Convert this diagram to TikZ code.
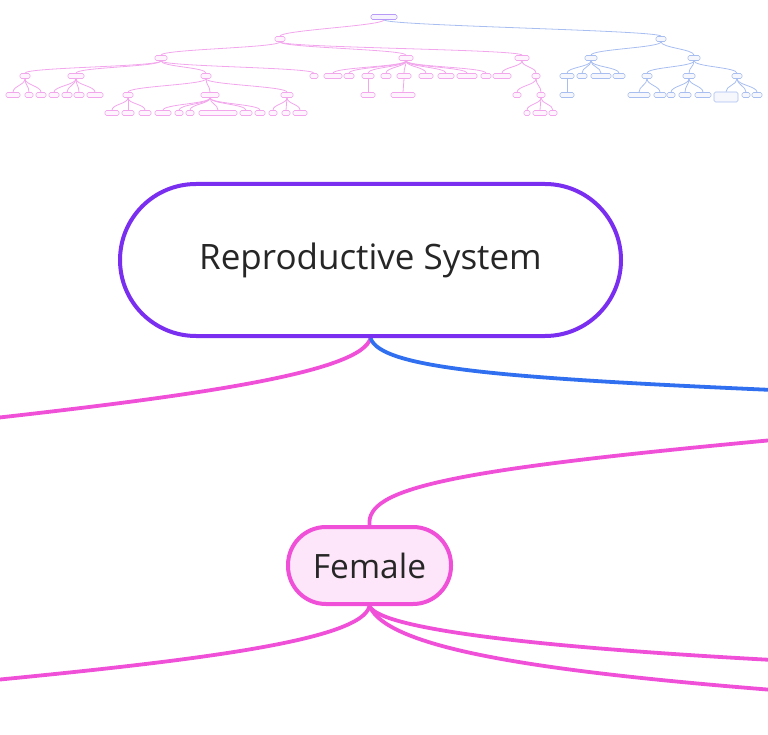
\documentclass[tikz,border=0pt]{standalone}
\usepackage{fontspec}
\setmainfont{Open Sans}
\usetikzlibrary{backgrounds}
\definecolor{mp}{HTML}{F2A6EC}
\definecolor{mb}{HTML}{A8BEF0}
\definecolor{mr}{HTML}{B79AF5}
\definecolor{purp}{HTML}{7A2EF0}
\definecolor{pink}{HTML}{F050D8}
\definecolor{blu}{HTML}{2F6FF0}
\definecolor{pfill}{HTML}{FDE6F9}
\definecolor{txt}{HTML}{262626}
\tikzset{
  mm/.style={draw=#1, fill=#1!12, rounded corners=1.5pt, line width=0.6pt, minimum height=5pt, inner sep=0pt},
  mmline/.style={draw=#1, line width=0.8pt},
  bigroot/.style={draw=purp, line width=4pt, rounded corners=76pt, minimum width=501pt, minimum height=152pt, fill=white, text=txt, font=\fontsize{35}{38}\selectfont},
  fem/.style={draw=pink, line width=4pt, rounded corners=38pt, minimum width=163pt, minimum height=77pt, fill=pfill, text=txt, font=\fontsize{33.5}{36}\selectfont},
  conn/.style={line width=3.8pt, draw=#1}
}
\begin{document}
\begin{tikzpicture}[x=1pt,y=-1pt]
\useasboundingbox (0,0) rectangle (768,735);
% minimap
\node[mm=mr, minimum width=26pt] (r) at (384,17) {};
\foreach \n/\x/\y/\w/\p/\c in {
F/280/39/10/r/mp, M/661/39/10/r/mb,
a/161/58/12/F/mp, b/406/58/14/F/mp, c/522/58/14/F/mp, d/591/58/12/M/mb, e/694/58/12/M/mb,
a1/25/76/10/a/mp, a2/76/76/16/a/mp, a3/206/76/10/a/mp, a4/314/76/8/a/mp,
b1/333/76/18/b/mp, b2/349/76/10/b/mp, b3/368/76/12/b/mp, b4/386/76/10/b/mp, b5/404/76/14/b/mp, b6/426/76/14/b/mp, b7/446/76/16/b/mp, b8/467/76/20/b/mp, b9/486/76/10/b/mp,
c1/502/76/18/c/mp, c2/536/76/8/c/mp,
d1/567/76/14/d/mb, d2/582/76/10/d/mb, d3/601/76/20/d/mb, d4/619/76/12/d/mb,
e1/647/76/10/e/mb, e2/689/76/12/e/mb, e3/737/76/10/e/mb,
a11/13/95/14/a1/mp, a12/29/95/8/a1/mp, a13/41/95/10/a1/mp,
a21/54/95/10/a2/mp, a22/67/95/10/a2/mp, a23/79/95/10/a2/mp, a24/95/95/16/a2/mp,
a31/128/95/10/a3/mp, a32/210/95/18/a3/mp, a33/287/95/12/a3/mp,
b31/368/95/14/b3/mp, b51/403/95/24/b5/mp,
c21/517/95/8/c2/mp, c22/541/95/8/c2/mp,
d11/567/95/14/d1/mb,
e11/639/95/22/e1/mb, e12/660/95/12/e1/mb,
e21/671/95/8/e2/mb, e22/685/95/12/e2/mb, e23/703/95/16/e2/mb,
e32/746/95/8/e3/mb, e33/757/95/10/e3/mb,
a311/112/113/14/a31/mp, a312/128/113/12/a31/mp, a313/145/113/12/a31/mp,
a321/163/113/16/a32/mp, a322/179/113/8/a32/mp, a323/190/113/8/a32/mp, a324/218/113/38/a32/mp, a325/246/113/12/a32/mp, a326/260/113/10/a32/mp,
a331/273/113/8/a33/mp, a332/286/113/8/a33/mp, a333/300/113/14/a33/mp,
c221/527/113/6/c22/mp, c222/540/113/14/c22/mp, c223/553/113/8/c22/mp}{
  \node[mm=\c, minimum width=\w pt] (\n) at (\x,\y) {};
  \begin{pgfonlayer}{background}
  \draw[mmline=\c] (\p.south) .. controls +(0,6) and +(0,-6) .. (\n.north);
  \end{pgfonlayer}
}
\node[mm=mb, minimum width=24pt, minimum height=10pt] (e31) at (726,97) {};
\begin{pgfonlayer}{background}
\draw[mmline=mb] (e3.south) .. controls +(0,6) and +(0,-6) .. (e31.north);
\end{pgfonlayer}
% main view
\node[bigroot] (rs) at (370.5,260) {Reproductive System};
\node[fem] (fe) at (369.5,565.5) {Female};
\coordinate (l1) at (-5,418);
\coordinate (r1) at (773,390);
\coordinate (r2) at (773,440);
\coordinate (l2) at (-5,680);
\coordinate (r3) at (773,660);
\coordinate (r4) at (773,690);
\begin{pgfonlayer}{background}
\draw[conn=pink] (rs.south) .. controls (362,372) and (200,395) .. (l1);
\draw[conn=blu] (rs.south) .. controls (380,368) and (500,378) .. (r1);
\draw[conn=pink] (fe.north) .. controls (366,488) and (450,470) .. (r2);
\draw[conn=pink] (fe.south) .. controls (362,640) and (200,660) .. (l2);
\draw[conn=pink] (fe.south) .. controls (380,630) and (550,648) .. (r3);
\draw[conn=pink] (fe.south) .. controls (388,650) and (550,672) .. (r4);
\end{pgfonlayer}
\end{tikzpicture}
\end{document}
